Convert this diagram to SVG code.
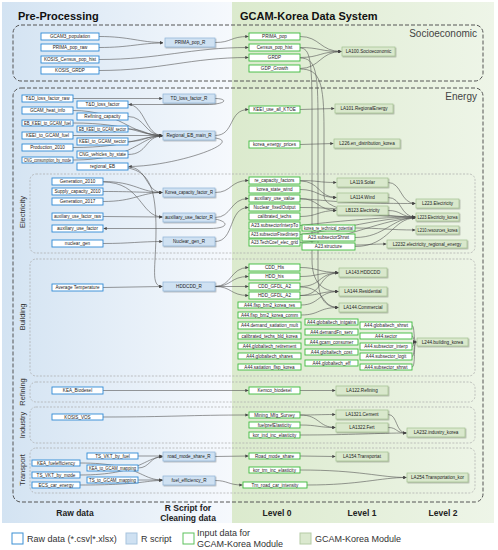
<svg xmlns="http://www.w3.org/2000/svg" width="498" height="550" viewBox="0 0 498 550">
<defs>
<linearGradient id="gl" x1="0" y1="0" x2="1" y2="0"><stop offset="0" stop-color="#d3e3f2"/><stop offset="1" stop-color="#f6f9fd"/></linearGradient>
<linearGradient id="gr" x1="0" y1="0" x2="1" y2="0"><stop offset="0" stop-color="#dbeacd"/><stop offset="1" stop-color="#eef5e8"/></linearGradient>
<marker id="a" viewBox="0 0 6 6" refX="6" refY="3" markerWidth="3.2" markerHeight="3.2" markerUnits="userSpaceOnUse" orient="auto"><path d="M0,0 L6,3 L0,6 z" fill="#444"/></marker>
<filter id="sh" x="-10%" y="-30%" width="130%" height="180%"><feDropShadow dx="0.8" dy="0.9" stdDeviation="0.5" flood-color="#000" flood-opacity="0.35"/></filter>
<style>
text{font-family:"Liberation Sans",Arial,sans-serif;fill:#222}
.n text{font-size:4.6px;text-anchor:middle}
.raw rect{fill:#fff;stroke:#2f8ad6;stroke-width:0.9}
.rs rect{fill:#cfe1f2;stroke:#8fb4d6;stroke-width:0.7;filter:url(#sh)}
.inp rect{fill:#fff;stroke:#3dbb3d;stroke-width:0.9}
.mod rect{fill:#d9e8cc;stroke:#a3c090;stroke-width:0.7;filter:url(#sh)}
.big{fill:none;stroke:#555;stroke-width:1;stroke-dasharray:4 2}
.sub{fill:none;stroke:#aaa;stroke-width:0.7;stroke-dasharray:2 1.5}
#connectors path{fill:none;stroke:#555;stroke-width:0.6;marker-end:url(#a)}
.sec{font-size:7.5px;fill:#333;text-anchor:middle}
.title{font-size:11px;font-weight:bold;fill:#111}
.col{font-size:8.5px;font-weight:bold;fill:#222;text-anchor:middle}
.grp{font-size:10px;fill:#444;text-anchor:end}
.leg{font-size:9px;fill:#333}
</style>
</defs>
<rect width="498" height="550" fill="#fff"/>
<rect x="2" y="2" width="230" height="521" fill="url(#gl)"/>
<rect x="232" y="2" width="262" height="521" fill="url(#gr)"/>
<text class="title" x="18" y="19.5">Pre-Processing</text>
<text class="title" x="240" y="19.5">GCAM-Korea Data System</text>
<rect class="big" x="13" y="25" width="470" height="56" rx="8"/>
<rect class="big" x="13" y="88" width="470" height="414" rx="8"/>
<text class="grp" x="477" y="37">Socioeconomic</text>
<text class="grp" x="477" y="100">Energy</text>
<rect class="sub" x="30" y="174" width="445" height="79" rx="6"/>
<rect class="sub" x="30" y="259" width="445" height="117" rx="6"/>
<rect class="sub" x="30" y="382" width="445" height="20" rx="6"/>
<rect class="sub" x="30" y="407" width="445" height="36" rx="6"/>
<rect class="sub" x="30" y="448" width="445" height="45" rx="6"/>
<text class="sec" transform="translate(24.5,212) rotate(-90)">Electricity</text>
<text class="sec" transform="translate(24.5,317) rotate(-90)">Building</text>
<text class="sec" transform="translate(24.5,392) rotate(-90)">Refining</text>
<text class="sec" transform="translate(24.5,425) rotate(-90)">Industry</text>
<text class="sec" transform="translate(24.5,470) rotate(-90)">Transport</text>

<g id="connectors">
<path d="M99 36.5 C130 36.5 140 42.5 163 42.5"/>
<path d="M99 47.5 C130 47.5 140 43 163 43"/>
<path d="M99 59.5 C160 59.5 190 47.5 248.5 47.5"/>
<path d="M99 70.5 C160 70.5 190 57.5 248.5 57.5"/>
<path d="M215 42.5 C232 42.5 230 36.5 248.5 36.5"/>
<path d="M300 36.5 C320 36.5 320 51.5 341.5 51.5"/>
<path d="M300 47.5 C320 47.5 320 51.5 341.5 51.5"/>
<path d="M300 57.5 C320 57.5 320 51.5 341.5 51.5"/>
<path d="M300 68.5 C320 68.5 320 51.5 341.5 51.5"/>
<path d="M300 48 C310 48 312 60 312 110 L312 260 C312 282 322 291.5 338.5 291.5"/>
<path d="M300 58 C316 58 318 72 318 120 L318 275 C318 297 324 307.5 338.5 307.5"/>
<path d="M300 69 C320 69 324 82 324 130 L324 196 C324 212 380 217 415.5 217"/>
<path d="M73 98.5 L162.5 98.5"/>
<path d="M215 98.5 C228 98.5 228 104.5 205 104.5 L128.5 104.5"/>
<path d="M128 104.5 C145 104.5 145 135.5 162.5 135.5"/>
<path d="M73 110.5 C120 110.5 130 135.5 162.5 135.5"/>
<path d="M128 116.5 C145 116.5 145 135.5 162.5 135.5"/>
<path d="M73 123 C130 123 140 135.5 162.5 135.5"/>
<path d="M128 129 C145 129 145 135.5 162.5 135.5"/>
<path d="M73 135.5 L162.5 135.5"/>
<path d="M128 141.5 C145 141.5 145 136 162.5 136"/>
<path d="M73 147.5 C130 147.5 140 136 162.5 136"/>
<path d="M128 154.5 C148 154.5 145 136 162.5 136"/>
<path d="M73 160 C135 160 140 136 162.5 136"/>
<path d="M215 138 C245 142 175 166.5 128.5 166.5"/>
<path d="M215 135.5 C235 135.5 228 109.5 248.5 109.5"/>
<path d="M300 109.5 L334.5 108.5"/>
<path d="M300 144.5 L333.5 143.5"/>
<path d="M128 167 C148 167 145 192.5 162.5 192.5"/>
<path d="M128 168 C150 172 156 190 156 230 C156 268 150 286.5 162.5 286.5"/>
<path d="M103 181.5 C135 181.5 140 192.5 162.5 192.5"/>
<path d="M103 191.5 C135 191.5 140 192.5 162.5 192.5"/>
<path d="M103 201.5 C135 201.5 140 192.5 162.5 192.5"/>
<path d="M103 182 C142 182 140 217 162.5 217"/>
<path d="M103 216.5 L162.5 217"/>
<path d="M215 219 C230 222 228 228.5 210 228.5 L103.5 228.5"/>
<path d="M103 243.5 C130 243.5 140 241.5 162.5 241.5"/>
<path d="M215 192.5 C232 192.5 230 180.5 248.5 180.5"/>
<path d="M215 217.5 C232 217.5 230 198.5 248.5 198.5"/>
<path d="M215 241.5 C235 241.5 228 207.5 248.5 207.5"/>
<path d="M300 180.5 C318 180.5 318 182.5 336.5 182.5"/>
<path d="M300 181 C320 181 318 197.5 336.5 197.5"/>
<path d="M300 189.5 C318 189.5 318 197.5 336.5 197.5"/>
<path d="M300 198.5 C318 198.5 318 210.5 336.5 210.5"/>
<path d="M300 216.5 C318 216.5 318 210.5 336.5 210.5"/>
<path d="M300 199 C320 199 330 203.5 415.5 203.5"/>
<path d="M300 207.5 C360 207.5 380 217 415.5 217"/>
<path d="M388 182.5 C402 182.5 400 203.5 415.5 203.5"/>
<path d="M388 197.5 C402 197.5 400 217 415.5 217"/>
<path d="M388 210.5 C402 210.5 400 217 415.5 217"/>
<path d="M300 225.5 C330 222 380 217 415.5 217"/>
<path d="M300 234.5 C340 230 380 217.5 415.5 217.5"/>
<path d="M300 242.5 C345 240 385 218 415.5 218"/>
<path d="M355 228 C380 228 390 230 415.5 230"/>
<path d="M355 237.5 C385 237.5 392 217.5 415.5 217.5"/>
<path d="M355 246.5 C390 246.5 392 218 415.5 218"/>
<path d="M355 245 C370 245 370 244 386.5 244"/>
<path d="M103 287.5 L162.5 286.5"/>
<path d="M215 286.5 C232 286.5 230 267.5 248.5 267.5"/>
<path d="M215 286.5 C232 286.5 230 276.5 248.5 276.5"/>
<path d="M215 286.5 L248.5 286.5"/>
<path d="M215 286.5 C232 286.5 230 295.5 248.5 295.5"/>
<path d="M300 267.5 C318 267.5 318 272.5 338.5 272.5"/>
<path d="M300 276.5 C318 276.5 318 272.5 338.5 272.5"/>
<path d="M300 286.5 C322 286.5 318 273 338.5 273"/>
<path d="M300 295.5 C324 295.5 318 273 338.5 273"/>
<path d="M300 295.5 C322 295.5 318 291.5 338.5 291.5"/>
<path d="M301 305 C320 305 318 291.5 338.5 291.5"/>
<path d="M301 315 C320 315 318 307.5 338.5 307.5"/>
<path d="M300 287 C326 287 320 307.5 338.5 307.5"/>
<path d="M412 325.5 C415 325.5 413 342 416.5 342"/>
<path d="M412 336 C414 336 413 342 416.5 342"/>
<path d="M412 346.5 C414 346.5 413 342 416.5 342"/>
<path d="M412 356.5 C415 356.5 413 342 416.5 342"/>
<path d="M412 367 C416 367 413 342 416.5 342"/>
<path d="M103 390.5 L248.5 390.5"/>
<path d="M300 390.5 L335.5 390.5"/>
<path d="M103 417 C170 417 190 415 248.5 415"/>
<path d="M300 415 C318 415 318 414.5 335.5 414.5"/>
<path d="M300 415 C320 415 318 427.5 335.5 427.5"/>
<path d="M300 425 C318 425 318 427.5 335.5 427.5"/>
<path d="M300 435 C350 435 380 433 406.5 433"/>
<path d="M388 414.5 C398 414.5 395 433 406.5 433"/>
<path d="M388 427.5 C398 427.5 395 433 406.5 433"/>
<path d="M138 456 L162.5 456"/>
<path d="M138 468 C150 468 150 456.5 162.5 456.5"/>
<path d="M80 463 C140 463 140 480 162.5 480"/>
<path d="M80 475 C140 475 145 457 162.5 457"/>
<path d="M138 480 L162.5 480"/>
<path d="M80 485 C140 485 145 480.5 162.5 480.5"/>
<path d="M215 456.5 L248.5 456"/>
<path d="M215 480.5 C228 480.5 228 485 242.5 485"/>
<path d="M300 456 L335.5 456.5"/>
<path d="M300 470 C360 470 380 477.5 406.5 477.5"/>
<path d="M307 485 C360 485 380 477.5 406.5 477.5"/>
</g>

<!-- Socioeconomic -->
<g id="GCAM3_population" class="n raw"><rect x="41" y="33" width="58" height="7"/><text x="70" y="38.2">GCAM3_population</text></g>
<g id="PRIMA_pop_raw" class="n raw"><rect x="41" y="44" width="58" height="7"/><text x="70" y="49.2">PRIMA_pop_raw</text></g>
<g id="KOSIS_Census_pop_hist" class="n raw"><rect x="41" y="56" width="58" height="7"/><text x="70" y="61.2">KOSIS_Census_pop_hist</text></g>
<g id="KOSIS_GRDP" class="n raw"><rect x="41" y="67" width="58" height="7"/><text x="70" y="72.2">KOSIS_GRDP</text></g>
<g id="PRIMA_pop_R" class="n rs"><rect x="165" y="38" width="50" height="9"/><text x="190" y="44.2">PRIMA_pop_R</text></g>
<g id="PRIMA_pop" class="n inp"><rect x="249" y="33" width="51" height="7"/><text x="274.5" y="38.2">PRIMA_pop</text></g>
<g id="Census_pop_hist" class="n inp"><rect x="249" y="44" width="51" height="7"/><text x="274.5" y="49.2">Census_pop_hist</text></g>
<g id="GRDP" class="n inp"><rect x="249" y="54" width="51" height="7"/><text x="274.5" y="59.2">GRDP</text></g>
<g id="GDP_Growth" class="n inp"><rect x="249" y="65" width="51" height="7"/><text x="274.5" y="70.2">GDP_Growth</text></g>
<g id="LA100" class="n mod"><rect x="342" y="47" width="53" height="9"/><text x="368.5" y="53.2">LA100.Socioeconomic</text></g>

<!-- Energy -->
<g id="TD_loss_factor_raw" class="n raw"><rect x="22" y="95" width="51" height="7"/><text x="47.5" y="100.2">T&amp;D_loss_factor_raw</text></g>
<g id="TD_loss_factor" class="n raw"><rect x="77" y="101" width="51" height="7"/><text x="102.5" y="106.2">T&amp;D_loss_factor</text></g>
<g id="GCAM_heat_info" class="n raw"><rect x="22" y="107" width="51" height="7"/><text x="47.5" y="112.2">GCAM_heat_info</text></g>
<g id="Refining_capacity" class="n raw"><rect x="77" y="113" width="51" height="7"/><text x="102.5" y="118.2">Refining_capacity</text></g>
<g id="EB_KEEI_to_GCAM_fuel" class="n raw"><rect x="22" y="120" width="51" height="6"/><text x="47.5" y="124.6" textLength="47" lengthAdjust="spacingAndGlyphs">EB_KEEI_to_GCAM_fuel</text></g>
<g id="EB_KEEI_to_GCAM_sector" class="n raw"><rect x="77" y="126" width="51" height="6"/><text x="102.5" y="130.6" textLength="47" lengthAdjust="spacingAndGlyphs">EB_KEEI_to_GCAM_sector</text></g>
<g id="KEEI_to_GCAM_fuel" class="n raw"><rect x="22" y="132" width="51" height="7"/><text x="47.5" y="137.2">KEEI_to_GCAM_fuel</text></g>
<g id="KEEI_to_GCAM_sector" class="n raw"><rect x="77" y="138" width="51" height="7"/><text x="102.5" y="143.2" textLength="47" lengthAdjust="spacingAndGlyphs">KEEI_to_GCAM_sector</text></g>
<g id="Production_2010" class="n raw"><rect x="22" y="144" width="51" height="7"/><text x="47.5" y="149.2">Production_2010</text></g>
<g id="CNG_vehicles_by_state" class="n raw"><rect x="77" y="151" width="51" height="7"/><text x="102.5" y="156.2" textLength="47" lengthAdjust="spacingAndGlyphs">CNG_vehicles_by_state</text></g>
<g id="CNG_consumption_by_mode" class="n raw"><rect x="22" y="157" width="51" height="6"/><text x="47.5" y="161.6" textLength="47" lengthAdjust="spacingAndGlyphs">CNG_consumption_by_mode</text></g>
<g id="regional_EB" class="n raw"><rect x="77" y="163" width="51" height="7"/><text x="102.5" y="168.2">regional_EB</text></g>
<g id="TD_loss_factor_R" class="n rs"><rect x="163" y="94" width="52" height="9"/><text x="189" y="100.2">TD_loss_factor_R</text></g>
<g id="Regional_EB_main_R" class="n rs"><rect x="163" y="131" width="52" height="9"/><text x="189" y="137.2">Regional_EB_main_R</text></g>
<g id="KEEI_use_all_KTOE" class="n inp"><rect x="249" y="106" width="51" height="7"/><text x="274.5" y="111.2">KEEI_use_all_KTOE</text></g>
<g id="korea_energy_prices" class="n inp"><rect x="249" y="141" width="51" height="7"/><text x="274.5" y="146.2">korea_energy_prices</text></g>
<g id="LA101" class="n mod"><rect x="335" y="104" width="58" height="9"/><text x="364" y="110.2">LA101.RegionalEnergy</text></g>
<g id="L226" class="n mod"><rect x="334" y="139" width="66" height="9"/><text x="367" y="145.2">L226.en_distribution_korea</text></g>

<!-- Electricity -->
<g id="Generation_2010" class="n raw"><rect x="52" y="178" width="51" height="7"/><text x="77.5" y="183.2">Generation_2010</text></g>
<g id="Supply_capacity_2010" class="n raw"><rect x="52" y="188" width="51" height="7"/><text x="77.5" y="193.2">Supply_capacity_2010</text></g>
<g id="Generation_2017" class="n raw"><rect x="52" y="198" width="51" height="7"/><text x="77.5" y="203.2">Generation_2017</text></g>
<g id="auxiliary_use_factor_raw" class="n raw"><rect x="52" y="213" width="51" height="7"/><text x="77.5" y="218.2" textLength="47" lengthAdjust="spacingAndGlyphs">auxiliary_use_factor_raw</text></g>
<g id="auxiliary_use_factor" class="n raw"><rect x="52" y="225" width="51" height="7"/><text x="77.5" y="230.2">auxiliary_use_factor</text></g>
<g id="nuclear_gen" class="n raw"><rect x="52" y="240" width="51" height="7"/><text x="77.5" y="245.2">nuclear_gen</text></g>
<g id="Korea_capacity_factor_R" class="n rs"><rect x="163" y="188" width="52" height="9"/><text x="189" y="194.2" textLength="48" lengthAdjust="spacingAndGlyphs">Korea_capacity_factor_R</text></g>
<g id="auxiliary_use_factor_R" class="n rs"><rect x="163" y="213" width="52" height="9"/><text x="189" y="219.2" textLength="48" lengthAdjust="spacingAndGlyphs">auxiliary_use_factor_R</text></g>
<g id="Nuclear_gen_R" class="n rs"><rect x="163" y="237" width="52" height="9"/><text x="189" y="243.2">Nuclear_gen_R</text></g>
<g id="re_capacity_factors" class="n inp"><rect x="249" y="177" width="51" height="7"/><text x="274.5" y="182.2">re_capacity_factors</text></g>
<g id="korea_state_wind" class="n inp"><rect x="249" y="186" width="51" height="7"/><text x="274.5" y="191.2">korea_state_wind</text></g>
<g id="auxiliary_use_value" class="n inp"><rect x="249" y="195" width="51" height="7"/><text x="274.5" y="200.2">auxiliary_use_value</text></g>
<g id="Nuclear_fixedOutput" class="n inp"><rect x="249" y="204" width="51" height="7"/><text x="274.5" y="209.2">Nuclear_fixedOutput</text></g>
<g id="calibrated_techs" class="n inp"><rect x="249" y="213" width="51" height="7"/><text x="274.5" y="218.2">calibrated_techs</text></g>
<g id="A23_subsectorInterpTo" class="n inp"><rect x="249" y="222" width="51" height="7"/><text x="274.5" y="227.2" textLength="47" lengthAdjust="spacingAndGlyphs">A23.subsectorInterpTo</text></g>
<g id="A23_subsectorFixedInterp" class="n inp"><rect x="249" y="231" width="51" height="7"/><text x="274.5" y="236.2" textLength="47" lengthAdjust="spacingAndGlyphs">A23.subsectorFixedInterp</text></g>
<g id="A23_TechCoef_elec_grid" class="n inp"><rect x="249" y="239" width="51" height="7"/><text x="274.5" y="244.2" textLength="47" lengthAdjust="spacingAndGlyphs">A23.TechCoef_elec_grid</text></g>
<g id="korea_re_technical_potential" class="n inp"><rect x="302" y="225" width="53" height="6"/><text x="328.5" y="229.6" textLength="49" lengthAdjust="spacingAndGlyphs">korea_re_technical_potential</text></g>
<g id="A23_subsectorShrwt" class="n inp"><rect x="302" y="234" width="53" height="7"/><text x="328.5" y="239.2">A23.subsectorShrwt</text></g>
<g id="A23_structure" class="n inp"><rect x="302" y="243" width="53" height="7"/><text x="328.5" y="248.2">A23.structure</text></g>
<g id="LA119" class="n mod"><rect x="337" y="178" width="51" height="9"/><text x="362.5" y="184.2">LA119.Solar</text></g>
<g id="LA114" class="n mod"><rect x="337" y="193" width="51" height="9"/><text x="362.5" y="199.2">LA114.Wind</text></g>
<g id="LB123" class="n mod"><rect x="337" y="206" width="51" height="9"/><text x="362.5" y="212.2">LB123.Electricity</text></g>
<g id="L223_Electricity" class="n mod"><rect x="416" y="199" width="43" height="9"/><text x="437.5" y="205.2">L223.Electricity</text></g>
<g id="L223_Electricity_korea" class="n mod"><rect x="416" y="213" width="43" height="8"/><text x="437.5" y="218.6" textLength="40" lengthAdjust="spacingAndGlyphs">L223.Electricity_korea</text></g>
<g id="L210" class="n mod"><rect x="416" y="226" width="43" height="8"/><text x="437.5" y="231.6" textLength="40" lengthAdjust="spacingAndGlyphs">L210.resources_korea</text></g>
<g id="L2232" class="n mod"><rect x="387" y="240" width="80" height="8"/><text x="427" y="245.6">L2232.electricity_regional_energy</text></g>

<!-- Building -->
<g id="Average_Temperature" class="n raw"><rect x="52" y="284" width="51" height="7"/><text x="77.5" y="289.2">Average Temperature</text></g>
<g id="HDDCDD_R" class="n rs"><rect x="163" y="282" width="52" height="9"/><text x="189" y="288.2">HDDCDD_R</text></g>
<g id="CDD_His" class="n inp"><rect x="249" y="264" width="51" height="7"/><text x="274.5" y="269.2">CDD_His</text></g>
<g id="HDD_his" class="n inp"><rect x="249" y="273" width="51" height="7"/><text x="274.5" y="278.2">HDD_his</text></g>
<g id="CDD_GFDL_A2" class="n inp"><rect x="249" y="283" width="51" height="7"/><text x="274.5" y="288.2">CDD_GFDL_A2</text></g>
<g id="HDD_GFDL_A2" class="n inp"><rect x="249" y="292" width="51" height="7"/><text x="274.5" y="297.2">HDD_GFDL_A2</text></g>
<g id="A44_flsp_res" class="n inp"><rect x="238" y="302" width="63" height="6"/><text x="269.5" y="306.6">A44.flsp_bm2_korea_res</text></g>
<g id="A44_flsp_comm" class="n inp"><rect x="238" y="312" width="63" height="6"/><text x="269.5" y="316.6">A44.flsp_bm2_korea_comm</text></g>
<g id="A44_demand_satiation_mult" class="n inp"><rect x="238" y="322" width="63" height="7"/><text x="269.5" y="327.2">A44.demand_satiation_mult</text></g>
<g id="calibrated_techs_bld_korea" class="n inp"><rect x="238" y="333" width="63" height="6"/><text x="269.5" y="337.6">calibrated_techs_bld_korea</text></g>
<g id="A44_globaltech_retirement" class="n inp"><rect x="238" y="343" width="63" height="6"/><text x="269.5" y="347.6">A44.globaltech_retirement</text></g>
<g id="A44_globaltech_shares" class="n inp"><rect x="238" y="353" width="63" height="6"/><text x="269.5" y="357.6">A44.globaltech_shares</text></g>
<g id="A44_satiation_flsp_korea" class="n inp"><rect x="238" y="364" width="63" height="6"/><text x="269.5" y="368.6">A44.satiation_flsp_korea</text></g>
<g id="A44_globaltech_intgains" class="n inp"><rect x="305" y="319" width="53" height="6"/><text x="331.5" y="323.6" textLength="49" lengthAdjust="spacingAndGlyphs">A44.globaltech_intgains</text></g>
<g id="A44_demandFn_serv" class="n inp"><rect x="305" y="329" width="53" height="6"/><text x="331.5" y="333.6">A44.demandFn_serv</text></g>
<g id="A44_gcam_consumer" class="n inp"><rect x="305" y="339" width="53" height="6"/><text x="331.5" y="343.6">A44.gcam_consumer</text></g>
<g id="A44_globaltech_cost" class="n inp"><rect x="305" y="349" width="53" height="6"/><text x="331.5" y="353.6">A44.globaltech_cost</text></g>
<g id="A44_globaltech_eff" class="n inp"><rect x="305" y="360" width="53" height="6"/><text x="331.5" y="364.6">A44.globaltech_eff</text></g>
<g id="A44_globaltech_shrwt" class="n inp"><rect x="360" y="322" width="52" height="7"/><text x="386" y="327.2">A44.globaltech_shrwt</text></g>
<g id="A44_sector" class="n inp"><rect x="360" y="333" width="52" height="6"/><text x="386" y="337.6">A44.sector</text></g>
<g id="A44_subsector_interp" class="n inp"><rect x="360" y="343" width="52" height="7"/><text x="386" y="348.2">A44.subsector_interp</text></g>
<g id="A44_subsector_logit" class="n inp"><rect x="360" y="353" width="52" height="7"/><text x="386" y="358.2">A44.subsector_logit</text></g>
<g id="A44_subsector_shrwt" class="n inp"><rect x="360" y="364" width="52" height="6"/><text x="386" y="368.6">A44.subsector_shrwt</text></g>
<g id="LA143" class="n mod"><rect x="339" y="268" width="48" height="9"/><text x="363" y="274.2">LA143.HDDCDD</text></g>
<g id="LA144_Residential" class="n mod"><rect x="339" y="287" width="48" height="9"/><text x="363" y="293.2">LA144.Residential</text></g>
<g id="LA144_Commercial" class="n mod"><rect x="339" y="303" width="48" height="9"/><text x="363" y="309.2">LA144.Commercial</text></g>
<g id="L244" class="n mod"><rect x="417" y="338" width="51" height="8"/><text x="442.5" y="343.6">L244.building_korea</text></g>

<!-- Refining -->
<g id="KEA_Biodesel" class="n raw"><rect x="52" y="387" width="51" height="7"/><text x="77.5" y="392.2">KEA_Biodesel</text></g>
<g id="Kemco_biodesel" class="n inp"><rect x="249" y="387" width="51" height="7"/><text x="274.5" y="392.2">Kemco_biodesel</text></g>
<g id="LA122" class="n mod"><rect x="336" y="386" width="52" height="9"/><text x="362" y="392.2">LA122.Refining</text></g>

<!-- Industry -->
<g id="KOSIS_VOS" class="n raw"><rect x="52" y="414" width="51" height="6"/><text x="77.5" y="418.6">KOSIS_VOS</text></g>
<g id="Mining_Mfg_Survey" class="n inp"><rect x="249" y="412" width="51" height="6"/><text x="274.5" y="416.6">Mining_Mfg_Survey</text></g>
<g id="fuelprefElasticity" class="n inp"><rect x="249" y="422" width="51" height="6"/><text x="274.5" y="426.6">fuelprefElasticity</text></g>
<g id="kor_ind_inc_elasticity" class="n inp"><rect x="249" y="432" width="51" height="6"/><text x="274.5" y="436.6">kor_ind_inc_elasticity</text></g>
<g id="LA1321" class="n mod"><rect x="336" y="410" width="52" height="9"/><text x="362" y="416.2">LA1321.Cement</text></g>
<g id="LA1322" class="n mod"><rect x="336" y="423" width="52" height="9"/><text x="362" y="429.2">LA1322.Fert</text></g>
<g id="LA232" class="n mod"><rect x="407" y="428" width="58" height="9"/><text x="436" y="434.2">LA232.industry_korea</text></g>

<!-- Transport -->
<g id="TS_VKT_by_fuel" class="n raw"><rect x="87" y="453" width="51" height="6"/><text x="112.5" y="457.6">TS_VKT_by_fuel</text></g>
<g id="KEA_fuelefficiency" class="n raw"><rect x="32" y="460" width="48" height="6"/><text x="56" y="464.6">KEA_fuelefficiency</text></g>
<g id="KEA_to_GCAM_mapping" class="n raw"><rect x="87" y="465" width="51" height="6"/><text x="112.5" y="469.6" textLength="47" lengthAdjust="spacingAndGlyphs">KEA_to_GCAM_mapping</text></g>
<g id="TS_VKT_by_mode" class="n raw"><rect x="32" y="472" width="48" height="6"/><text x="56" y="476.6">TS_VKT_by_mode</text></g>
<g id="TS_to_GCAM_mapping" class="n raw"><rect x="87" y="477" width="51" height="6"/><text x="112.5" y="481.6" textLength="47" lengthAdjust="spacingAndGlyphs">TS_to_GCAM_mapping</text></g>
<g id="ECS_car_energy" class="n raw"><rect x="32" y="482" width="48" height="6"/><text x="56" y="486.6">ECS_car_energy</text></g>
<g id="road_mode_share_R" class="n rs"><rect x="163" y="452" width="52" height="9"/><text x="189" y="458.2">road_mode_share_R</text></g>
<g id="fuel_efficiency_R" class="n rs"><rect x="163" y="476" width="52" height="9"/><text x="189" y="482.2">fuel_efficiency_R</text></g>
<g id="Road_mode_share" class="n inp"><rect x="249" y="453" width="51" height="6"/><text x="274.5" y="457.6">Road_mode_share</text></g>
<g id="kor_trn_inc_elasticity" class="n inp"><rect x="249" y="467" width="51" height="6"/><text x="274.5" y="471.6">kor_trn_inc_elasticity</text></g>
<g id="Trn_road_car_intensity" class="n inp"><rect x="243" y="482" width="64" height="6"/><text x="275" y="486.6">Trn_road_car_intensity</text></g>
<g id="LA154" class="n mod"><rect x="336" y="452" width="52" height="9"/><text x="362" y="458.2">LA154.Transportat</text></g>
<g id="LA254" class="n mod"><rect x="407" y="473" width="61" height="9"/><text x="437.5" y="479.2">LA254.Transportation_kor</text></g>

<!-- column labels -->
<text class="col" x="75" y="516">Raw data</text>
<text class="col" x="188" y="511">R Script for</text>
<text class="col" x="188" y="521">Cleaning data</text>
<text class="col" x="277" y="516">Level 0</text>
<text class="col" x="362" y="516">Level 1</text>
<text class="col" x="443" y="516">Level 2</text>

<!-- legend -->
<rect x="12" y="533" width="11" height="11" fill="#fff" stroke="#3b8fd4" stroke-width="1"/>
<text class="leg" x="27" y="542">Raw data (*.csv|*.xlsx)</text>
<rect x="126" y="533" width="11" height="11" fill="#cfe1f2" stroke="#a7c4de" stroke-width="1"/>
<text class="leg" x="141" y="542">R script</text>
<rect x="183" y="533" width="11" height="11" fill="#fff" stroke="#5cc15c" stroke-width="1"/>
<text class="leg" x="197" y="536">Input data for</text>
<text class="leg" x="197" y="547">GCAM-Korea Module</text>
<rect x="300" y="533" width="11" height="11" fill="#dbe9cf" stroke="#b5cca6" stroke-width="1"/>
<text class="leg" x="315" y="542">GCAM-Korea Module</text>
</svg>
